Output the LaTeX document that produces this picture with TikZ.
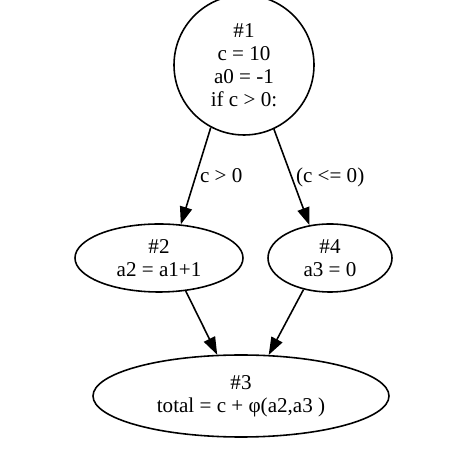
\documentclass[tikz,border=0pt]{standalone}
\usepackage{fontspec}
\setmainfont{Liberation Serif}
\usetikzlibrary{arrows.meta,shapes.geometric}

\begin{document}
\begin{tikzpicture}[>={Triangle[length=10pt,width=7pt]},
  blk/.style={draw,line width=0.9pt,inner sep=1pt,align=center,font=\fontsize{12}{13}\selectfont},
  flow/.style={->,line width=0.9pt},
  lbl/.style={font=\fontsize{12}{13}\selectfont,inner sep=2pt}]
\useasboundingbox (0,0) rectangle (9.48,9.48);
\node[blk,circle,minimum size=2.8cm] (b1) at (4.88,8.18) {\#1\\c = 10\\a0 = -1\\if c > 0:};
\node[blk,ellipse,minimum width=3.36cm,minimum height=1.36cm] (b2) at (3.18,4.32) {\#2\\a2 = a1+1};
\node[blk,ellipse,minimum width=2.48cm,minimum height=1.36cm] (b4) at (6.60,4.32) {\#4\\a3 = 0};
\node[blk,ellipse,minimum width=5.92cm,minimum height=1.64cm] (b3) at (4.82,1.56) {\#3\\total = c + φ(a2,a3 )};
\draw[flow] (b1.242) -- node[lbl,right] {c > 0} (b2.57);
\draw[flow] (b1.295) -- node[lbl,right] {(c <= 0)} (b4.122);
\draw[flow] (b2.309) -- (b3.120);
\draw[flow] (b4.230) -- (b3.56);
\end{tikzpicture}
\end{document}
